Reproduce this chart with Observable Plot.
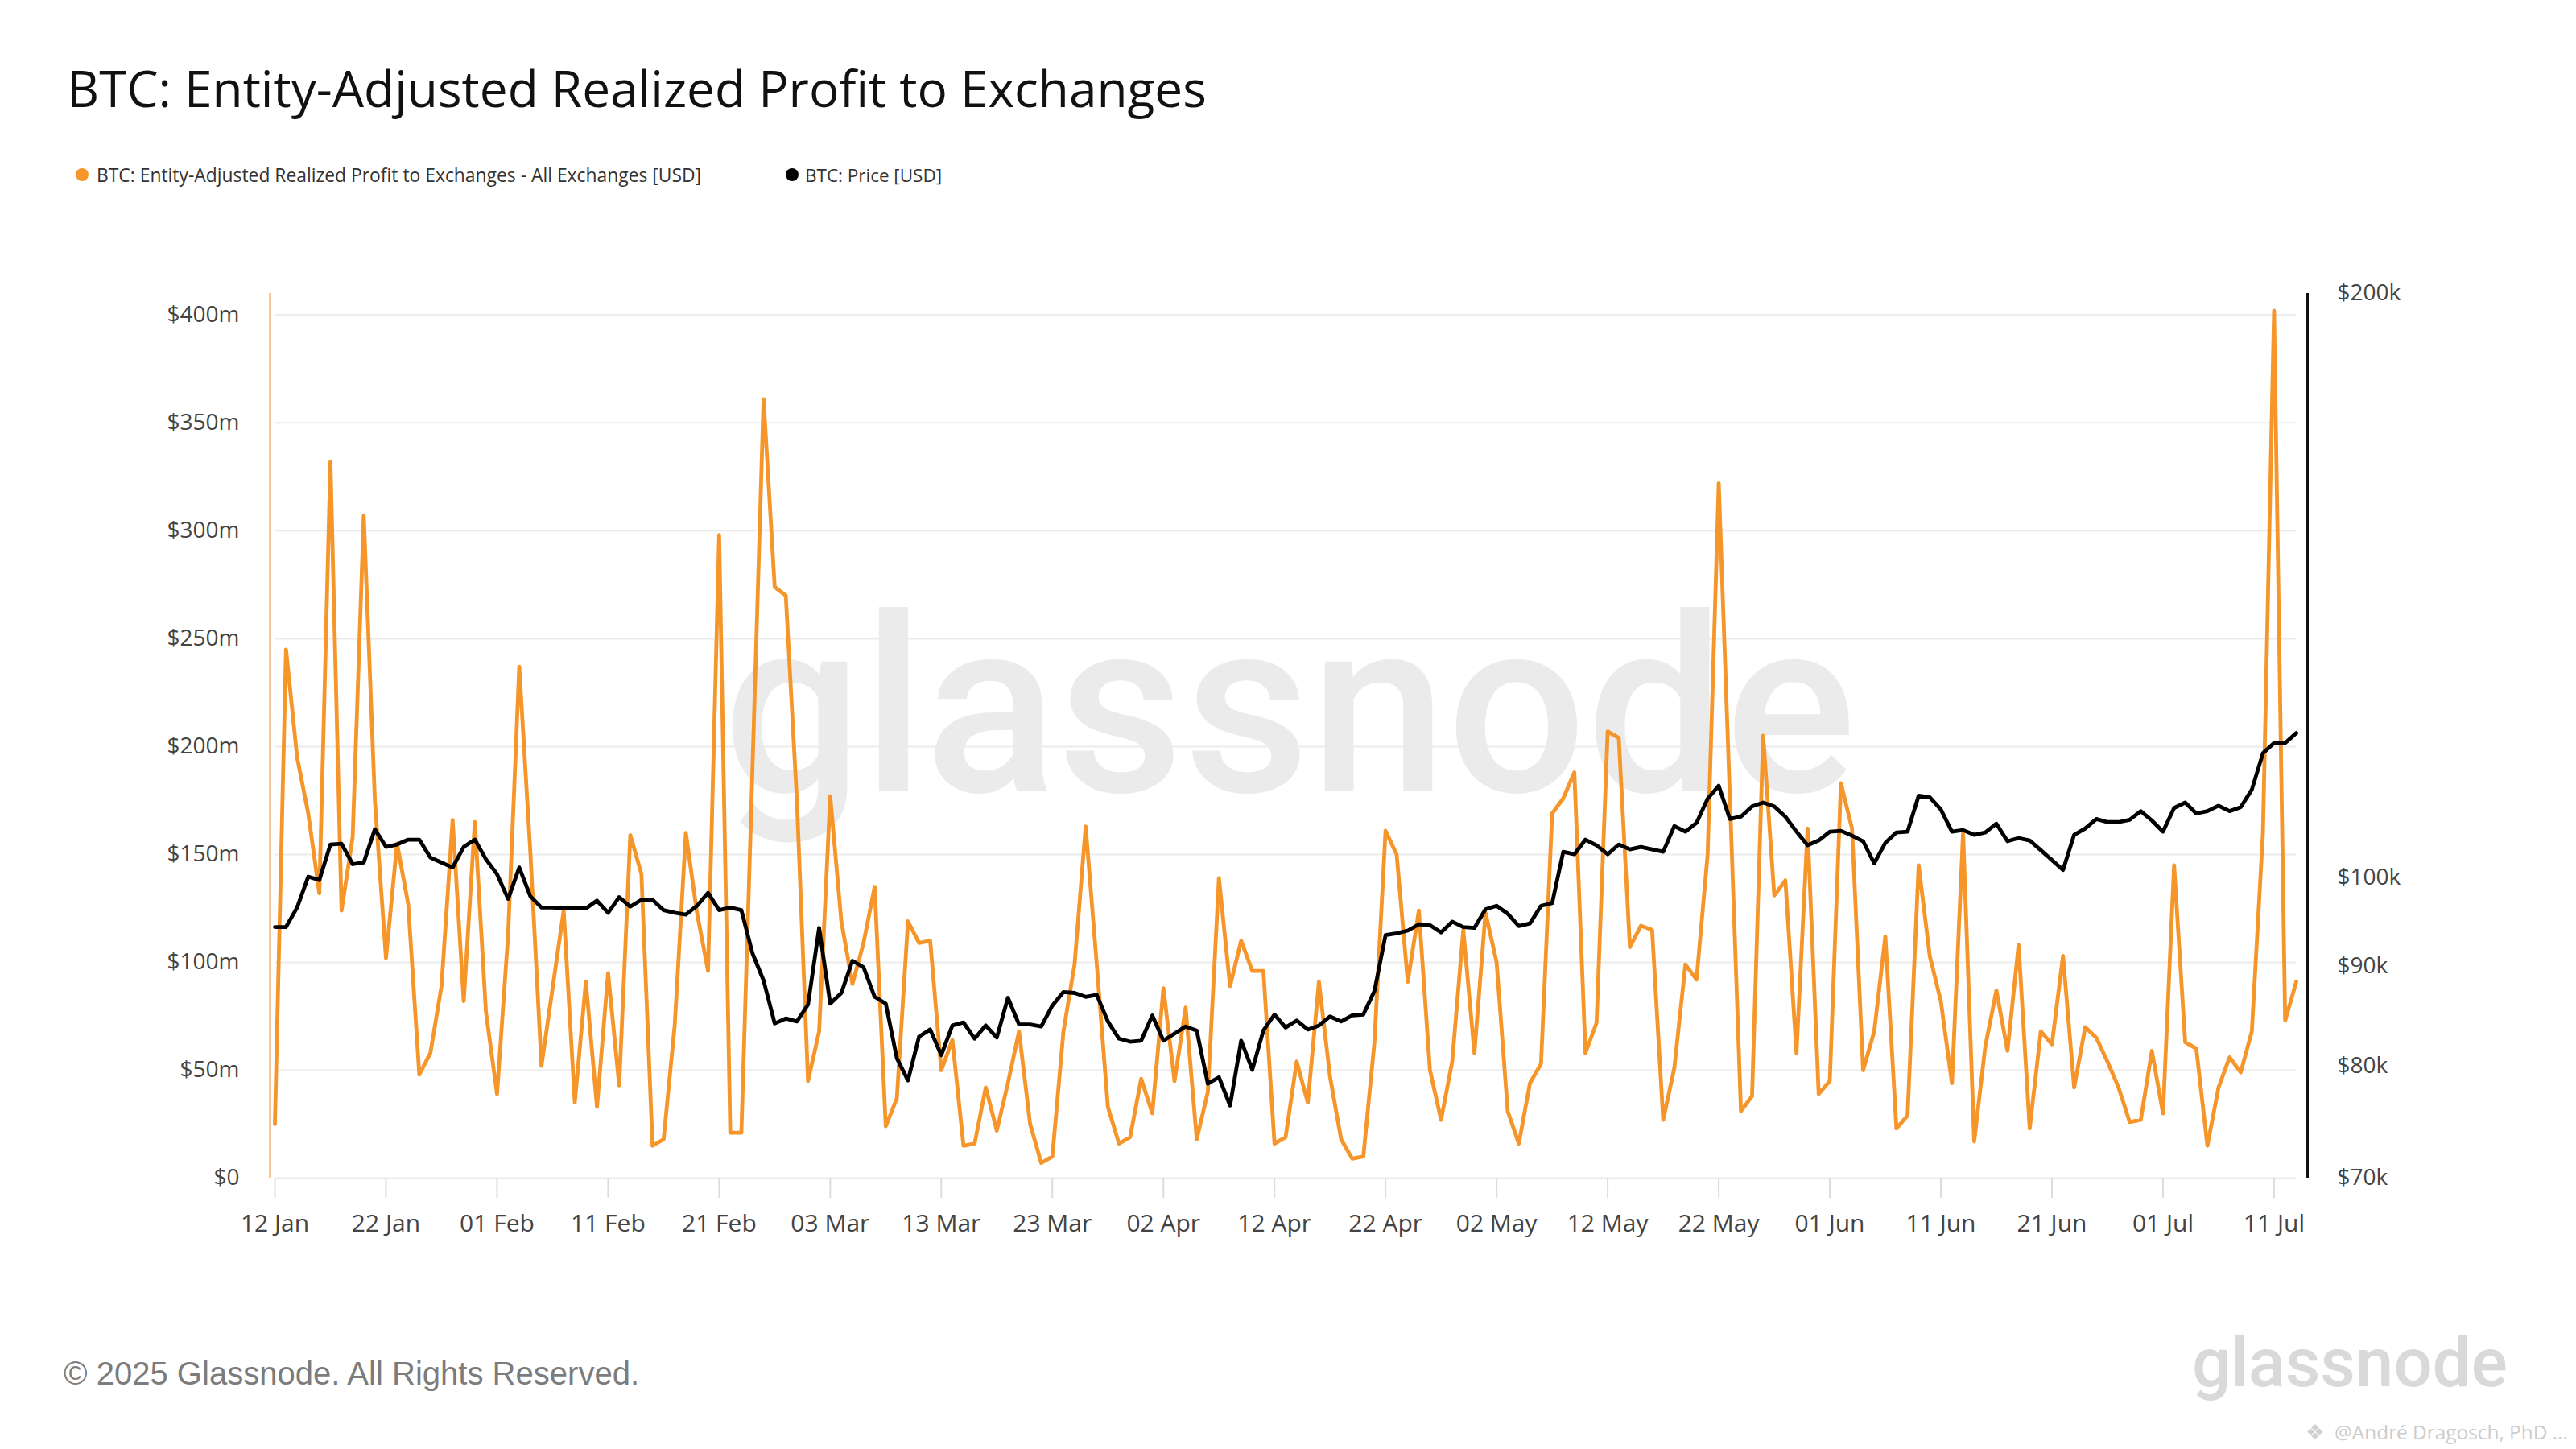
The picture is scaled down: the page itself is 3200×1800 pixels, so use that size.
<!DOCTYPE html>
<html>
<head>
<meta charset="utf-8">
<script src="https://cdn.jsdelivr.net/npm/d3@7"></script>
<script src="https://cdn.jsdelivr.net/npm/@observablehq/plot@0.6"></script>
<style>
html, body { margin: 0; padding: 0; background: #fff; }
#root { position: relative; width: 3200px; height: 1800px; overflow: hidden; background: #fff; }
.t { position: absolute; white-space: nowrap; line-height: 1; margin: 0; left: 0; top: 0; }
.bl { display: inline-block; width: 0; height: 0; vertical-align: baseline; }
.layer { position: absolute; left: 0; top: 300px; width: 3200px; height: 1300px; }
.dot { position: absolute; width: 16px; height: 16px; border-radius: 50%; }
</style>
</head>
<body>
<div id="root">
  <div id="wm" class="t" style="font-family: Roboto, sans-serif; font-weight: 500; font-size: 300px; color: #ebebeb;">glassnode<span class="bl"></span></div>
  <div id="chart1" class="layer"></div>
  <div id="chart2" class="layer"></div>
  <div id="title" class="t" style="font-family: 'Open Sans', sans-serif; font-size: 56px; color: #111;">BTC: Entity-Adjusted Realized Profit to Exchanges<span class="bl"></span></div>
  <div class="dot" style="left: 94px; top: 209px; background: #f5952a;"></div>
  <div id="leg1" class="t" style="font-family: 'Open Sans', sans-serif; font-size: 24px; color: #333;">BTC: Entity-Adjusted Realized Profit to Exchanges - All Exchanges [USD]<span class="bl"></span></div>
  <div class="dot" style="left: 976px; top: 209px; background: #000;"></div>
  <div id="leg2" class="t" style="font-family: 'Open Sans', sans-serif; font-size: 24px; color: #333;">BTC: Price [USD]<span class="bl"></span></div>
  <div id="foot" class="t" style="font-family: 'Liberation Sans', Arial, sans-serif; font-size: 40px; color: #7c7c7c;">© 2025 Glassnode. All Rights Reserved.<span class="bl"></span></div>
  <div id="logo" class="t" style="font-family: Roboto, sans-serif; font-weight: 500; font-size: 80px; color: #d9d9d9;">glassnode<span class="bl"></span></div>
  <div id="icon" class="t" style="font-family: 'DejaVu Sans', sans-serif; font-size: 26px; color: #d0d0d0;">❖<span class="bl"></span></div>
  <div id="attr" class="t" style="font-family: 'Open Sans', sans-serif; font-size: 24px; color: #cccccc;">@André Dragosch, PhD ...<span class="bl"></span></div>
</div>
<script>
// ---- data ----
const startDay = "2025-01-12";
const endDay = "2025-07-13";
// Entity-adjusted realized profit to exchanges, USD millions, one value per day from 12 Jan
const profit = [
  25,245,195,169,132,332,124,158,307,175,
  102,155,127,48,58,89,166,82,165,77,
  39,113,237,151,52,88,124,35,91,33,
  95,43,159,141,15,18,71,160,123,96,
  298,21,21,190,361,274,270,175,45,68,
  177,119,90,109,135,24,37,119,109,110,
  50,64,15,16,42,22,44,68,25,7,
  10,68,99,163,99,33,16,19,46,30,
  88,45,79,18,40,139,89,110,96,96,
  16,19,54,35,91,47,18,9,10,63,
  161,150,91,124,50,27,54,115,58,123,
  100,31,16,44,53,169,176,188,58,72,
  207,204,107,117,115,27,51,99,92,150,
  322,177,31,38,205,131,138,58,162,39,
  45,183,162,50,68,112,23,29,145,103,
  82,44,160,17,61,87,59,108,23,68,
  62,103,42,70,65,54,42,26,27,59,
  30,145,63,60,15,42,56,49,68,160,
  402,73,91
];
// BTC price, USD thousands
const price = [
  94.3,94.3,96.5,100.1,99.7,104.0,104.1,101.6,101.8,105.9,
  103.7,104.0,104.6,104.6,102.4,101.8,101.2,103.7,104.6,102.2,
  100.4,97.5,101.2,97.8,96.5,96.5,96.4,96.4,96.4,97.3,
  95.9,97.7,96.6,97.4,97.4,96.2,95.9,95.7,96.7,98.2,
  96.2,96.5,96.2,91.4,88.5,84.1,84.6,84.3,86.0,94.2,
  86.1,87.2,90.6,89.9,86.8,86.1,80.7,78.6,82.8,83.5,
  81.0,83.9,84.2,82.6,83.9,82.7,86.7,84.0,84.0,83.8,
  85.9,87.3,87.2,86.8,87.0,84.3,82.6,82.3,82.4,84.9,
  82.4,83.1,83.8,83.4,78.3,78.9,76.3,82.4,79.6,83.4,
  85.0,83.7,84.4,83.5,83.9,84.8,84.3,84.9,85.0,87.4,
  93.4,93.6,93.9,94.6,94.5,93.7,94.9,94.3,94.2,96.3,
  96.7,95.8,94.4,94.7,96.7,97.0,103.1,102.8,104.6,103.9,
  102.8,104.0,103.4,103.7,103.4,103.1,106.3,105.6,106.7,109.8,
  111.5,107.2,107.5,108.8,109.3,108.8,107.5,105.6,103.9,104.5,
  105.6,105.7,105.1,104.4,101.7,104.2,105.5,105.6,110.2,110.0,
  108.4,105.6,105.8,105.2,105.5,106.6,104.4,104.8,104.5,103.3,
  102.1,100.9,105.2,106.0,107.2,106.8,106.8,107.1,108.2,107.0,
  105.6,108.6,109.3,107.9,108.2,108.9,108.2,108.7,111.0,115.9,
  117.3,117.3,118.7
];
const xTickLabels = ["12 Jan","22 Jan","01 Feb","11 Feb","21 Feb","03 Mar","13 Mar","23 Mar","02 Apr","12 Apr","22 Apr","02 May","12 May","22 May","01 Jun","11 Jun","21 Jun","01 Jul","11 Jul"];
const profitTicks = [0,50,100,150,200,250,300,350,400];
const priceTicks = [70,80,90,100,200];

// ---- build ----
const ORANGE = "#f5952a";
const start = new Date(startDay + "T00:00:00Z");
const end = new Date(endDay + "T00:00:00Z");
const data = profit.map((v, i) => ({date: d3.utcDay.offset(start, i), profit: v, price: price[i]}));
const parseTick = d3.utcParse("%d %b %Y");
const tickDates = xTickLabels.map(s => parseTick(s + " 2025"));
const labelByTime = new Map(tickDates.map((d, i) => [+d, xTickLabels[i]]));

const common = {
  width: 3200, height: 1300,
  marginTop: 64, marginBottom: 137, marginLeft: 341, marginRight: 348,
  style: {fontFamily: "'Open Sans', sans-serif", background: "transparent", overflow: "visible"}
};

const chart1 = Plot.plot({
  ...common,
  x: {type: "utc", domain: [start, end]},
  y: {domain: [0, 410]},
  marks: [
    Plot.ruleY(profitTicks, {stroke: "#ebebeb", strokeWidth: 2}),
    Plot.ruleX([start], {stroke: ORANGE, strokeWidth: 2, dx: -6}),
    Plot.axisX({ticks: tickDates, tickFormat: d => labelByTime.get(+d), tickSize: 25, tickPadding: 20,
      stroke: "#dcdcdc", strokeWidth: 2, fill: "#444", fontSize: 30, label: null}),
    Plot.axisY({anchor: "left", ticks: profitTicks, tickFormat: d => d === 0 ? "$0" : "$" + d + "m",
      tickSize: 0, tickPadding: 44, fill: "#444", fontSize: 28, label: null}),
    Plot.line(data, {x: "date", y: "profit", stroke: ORANGE, strokeWidth: 4.8})
  ]
});
document.getElementById("chart1").appendChild(chart1);

const chart2 = Plot.plot({
  ...common,
  x: {type: "utc", domain: [start, end], axis: null},
  y: {type: "log", domain: [70, 200], axis: null},
  marks: [
    Plot.line(data, {x: "date", y: "price", stroke: "#000", strokeWidth: 4.8}),
    Plot.ruleX([end], {stroke: "#111", strokeWidth: 3, dx: 14}),
    Plot.axisY({anchor: "right", ticks: priceTicks, tickFormat: d => "$" + d + "k",
      tickSize: 0, tickPadding: 51, fill: "#444", fontSize: 28, label: null})
  ]
});
document.getElementById("chart2").appendChild(chart2);

function place(id, x, baseline, width) {
  const el = document.getElementById(id);
  el.style.left = x + "px";
  el.style.top = "0px";
  if (width) {
    const w = el.getBoundingClientRect().width;
    const fs = parseFloat(getComputedStyle(el).fontSize);
    el.style.fontSize = (fs * width / w) + "px";
  }
  const b = el.querySelector(".bl").getBoundingClientRect().top - el.getBoundingClientRect().top;
  el.style.top = (baseline - b) + "px";
}
function layout() {
  place("title", 83, 133, 1416);
  place("leg1", 120, 226, 751);
  place("leg2", 1000, 226, 170);
  place("foot", 79, 1720, 715);
  place("wm", 898, 983, 1408);
  place("logo", 2723, 1722, 392);
  place("icon", 2864, 1788, 0);
  place("attr", 2900, 1788, 290);
}
layout();
if (document.fonts && document.fonts.ready) document.fonts.ready.then(layout);
</script>
</body>
</html>
